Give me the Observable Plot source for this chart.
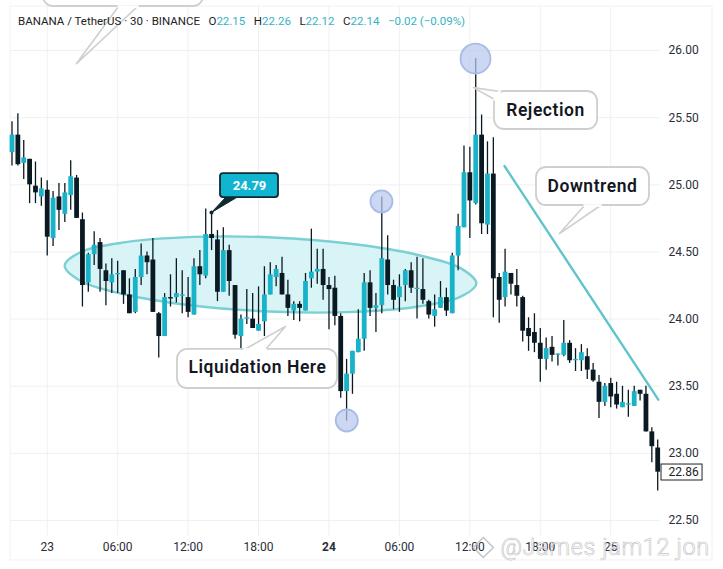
<!DOCTYPE html>
<html>
<head>
<meta charset="utf-8">
<script src="https://cdn.jsdelivr.net/npm/d3@7"></script>
<script src="https://cdn.jsdelivr.net/npm/@observablehq/plot@0.6"></script>
<style>
html,body{margin:0;padding:0;background:#fff}
#wrap{position:relative;width:723px;height:569px;overflow:hidden}
#head{position:absolute;left:18px;top:14px;font:11.5px Roboto,sans-serif;color:#222;white-space:pre}
#head b{font-weight:400;color:#35b3c4}
#head span{margin-left:8.5px}
.callout{font-weight:600;letter-spacing:.55px}
.wm{letter-spacing:.6px;font-weight:300}
</style>
</head>
<body>
<div id="wrap"><div id="chart"></div>
<div id="head"></div></div>
<script>
// ---- candle data (30-minute bars, prices) ----
const highs = [
25.47,25.53,25.33,25.19,25.17,25.05,25.03,24.95,25.01,25.01,
25.18,25.07,24.79,24.49,24.65,24.60,24.41,24.45,24.43,24.36,
24.30,24.37,24.56,24.50,24.60,24.05,24.19,24.33,24.45,24.36,
24.31,24.45,24.51,24.82,24.79,24.66,24.68,24.55,24.25,24.03,
24.22,24.19,24.24,24.39,24.42,24.40,24.46,24.29,24.13,24.13,
24.34,24.67,24.52,24.52,24.31,24.32,24.04,23.70,23.76,24.07,
24.34,24.36,24.19,24.91,24.62,24.29,24.33,24.37,24.42,24.46,
24.45,24.14,24.18,24.28,24.23,24.49,24.78,25.29,25.28,25.94,
25.52,25.32,25.35,24.34,24.52,24.34,24.37,24.17,24.01,24.04,
23.93,23.86,23.87,23.74,23.99,23.84,23.78,23.81,23.78,23.67,
23.58,23.52,23.56,23.53,23.50,23.47,23.50,23.47,23.50,23.19,23.10];
const bodyTops = [
25.37,25.37,25.20,25.19,24.99,24.97,24.96,24.90,24.91,24.94,
25.06,25.05,24.74,24.48,24.55,24.57,24.36,24.33,24.34,24.36,
24.18,24.31,24.47,24.47,24.44,24.04,24.16,24.16,24.19,24.18,
24.16,24.39,24.39,24.63,24.63,24.59,24.51,24.51,24.25,24.00,
24.01,24.00,23.96,24.18,24.33,24.37,24.34,24.18,24.11,24.11,
24.28,24.35,24.37,24.37,24.25,24.23,24.02,23.59,23.76,23.85,
24.27,24.27,24.10,24.45,24.44,24.25,24.24,24.36,24.36,24.23,
24.22,24.13,24.07,24.16,24.16,24.47,24.69,25.09,25.09,25.37,
25.37,25.08,25.08,24.31,24.35,24.34,24.25,24.16,23.93,23.90,
23.82,23.78,23.79,23.74,23.82,23.82,23.70,23.75,23.72,23.62,
23.53,23.50,23.52,23.44,23.38,23.37,23.46,23.47,23.44,23.16,23.04];
const bodyBottoms = [
25.24,25.15,25.16,25.00,24.94,24.91,24.61,24.60,24.81,24.78,
24.92,24.75,24.25,24.27,24.48,24.37,24.28,24.27,24.33,24.18,
24.04,24.05,24.31,24.42,24.05,23.87,23.87,24.15,24.16,24.17,
24.05,24.03,24.33,24.32,24.60,24.20,24.20,24.28,23.88,23.87,
24.00,23.93,23.91,23.98,24.18,24.31,24.18,24.08,24.06,24.08,
24.06,24.30,24.35,24.25,24.22,24.02,23.46,23.46,23.59,23.75,
23.85,24.08,24.08,24.10,24.25,24.14,24.16,24.25,24.23,24.22,
24.14,24.03,24.02,24.08,24.06,24.04,24.47,24.68,24.88,24.86,
24.71,24.70,24.30,24.14,24.16,24.26,24.17,23.91,23.87,23.82,
23.70,23.70,23.73,23.73,23.73,23.69,23.69,23.69,23.62,23.54,
23.38,23.38,23.42,23.36,23.34,23.36,23.35,23.44,23.16,23.05,22.86];
const lows = [
25.14,25.14,25.04,24.86,24.86,24.84,24.47,24.54,24.66,24.72,
24.81,24.75,24.09,24.20,24.40,24.20,24.10,24.19,24.19,24.11,
24.04,24.04,24.25,24.33,24.05,23.71,23.87,24.09,24.12,24.04,
24.01,24.03,24.25,24.30,24.51,24.13,24.20,24.17,23.85,23.77,
23.96,23.93,23.91,23.87,24.18,24.24,24.18,24.02,23.99,23.98,
24.06,24.23,24.26,24.14,23.92,23.95,23.41,23.24,23.44,23.75,
23.76,24.02,23.90,24.04,24.18,24.07,24.05,24.13,24.19,24.00,
24.11,24.00,23.94,24.08,24.02,24.04,24.36,24.68,24.60,24.85,
24.63,24.63,24.01,23.97,24.09,24.18,24.09,23.83,23.76,23.75,
23.53,23.62,23.68,23.65,23.72,23.67,23.61,23.61,23.55,23.53,
23.26,23.35,23.34,23.33,23.34,23.27,23.35,23.39,23.16,22.93,22.72];
const risingBars = [0,2,5,7,9,10,13,14,17,18,21,22,26,28,29,31,33,36,39,40,42,43,44,45,48,50,51,52,57,58,59,60,62,63,66,67,69,72,73,75,76,77,79,81,84,91,93,94,96,97,101,104,105,106];

// ---- axes ----
const priceTicks = [22.5,23,23.5,24,24.5,25,25.5,26];
const timeTickBars = [6,18,30,42,54,66,78,90,102];
const timeTickLabels = ["23","06:00","12:00","18:00","24","06:00","12:00","18:00","25"];
const boldTimeBar = 54;
const lastPrice = 22.86;

// ---- drawings on the chart, in (bar, price) ----
const ellipseBars   = [79.1,76.34,68.64,57.2,43.76,30.36,19.06,11.53,8.98,11.74,19.44,30.87,44.31,57.72,69.01,76.54];
const ellipsePrices = [24.265,24.165,24.09,24.052,24.057,24.103,24.185,24.288,24.399,24.5,24.573,24.612,24.608,24.561,24.479,24.376];
const trendBars = [83.9,110.1];
const trendPrices = [25.14,23.40];
const circleBars = [78.96,62.94,57.03];
const circlePrices = [25.94,24.876,23.245];
const circleRadii = [15,11,11];
const calloutTexts = ["Liquidation Here","Rejection","Downtrend",""];
const calloutBoxes = [[28.19,55.45,23.483,23.774],[82.2,99.76,25.412,25.695],[89.35,108.6,24.846,25.129],[5.37,32.62,26.328,26.596]];
const calloutCentres = [[41.82,23.64],[90.89,25.553],[98.89,24.987],[19,26.4]];
const calloutTails = [
  [[39.61,23.774],[46.59,23.945],[43.19,23.774]],
  [[83.05,25.695],[78.62,25.724],[82.2,25.635]],
  [[97.53,24.846],[93.27,24.637],[100.26,24.846]],
  [[18.14,26.328],[10.99,25.903],[21.38,26.328]]
];

const bars = highs.map((h,i)=>({i,high:h,low:lows[i],top:bodyTops[i],bot:bodyBottoms[i],up:risingBars.includes(i)}));
const TEAL="#18b3c8", DARK="#0b1a22", GRID="#eff0f2", BUB="#cfcfcf";

const xy = ([x,y])=>({x,y});
function callout(k){
  const [x1,x2,y1,y2]=calloutBoxes[k], t=calloutTails[k], [cx,cy]=calloutCentres[k];
  const marks=[
    Plot.rect([0],{x1:()=>x1,x2:()=>x2,y1:()=>y1,y2:()=>y2,rx:10,fill:"white",stroke:BUB,strokeWidth:1.8}),
    Plot.line(t.map(xy),{x:"x",y:"y",fill:"white",stroke:BUB,strokeWidth:1.6}),
    Plot.line([t[0],t[2]].map(xy),{x:"x",y:"y",stroke:"white",strokeWidth:2.6})
  ];
  if(calloutTexts[k]) marks.push(Plot.text([calloutTexts[k]],{x:()=>cx,y:()=>cy,text:d=>d,fontSize:17.5,className:"callout",fill:"#131722"}));
  return marks;
}
const timeLabel = d=>timeTickLabels[timeTickBars.indexOf(d)];

const chart = Plot.plot({
  width:723,height:569,marginLeft:10,marginRight:63,marginTop:6,marginBottom:33,
  style:{background:"white",fontFamily:"Roboto, sans-serif",overflow:"hidden"},
  x:{type:"linear",domain:[-0.2555,110.477]},
  y:{type:"linear",domain:[22.381,26.328]},
  marks:[
    // pane border
    Plot.rect([0],{x1:()=>-0.2555,x2:()=>119.34,y1:()=>22.2025,y2:()=>26.328,fill:"none",stroke:"#f1f1f1"}),
    Plot.ruleX(timeTickBars,{stroke:GRID}),
    Plot.ruleY(priceTicks,{stroke:GRID}),
    // liquidation ellipse
    Plot.line(ellipseBars.map((x,i)=>({x,y:ellipsePrices[i]})),{x:"x",y:"y",curve:"catmull-rom-closed",fill:"#d8f4f7",stroke:"#7ccfd2",strokeWidth:2.4}),
    // candles
    Plot.ruleX(bars,{x:"i",y1:"low",y2:"high",stroke:DARK,strokeWidth:1.3}),
    Plot.ruleX(bars,{x:"i",y1:"bot",y2:"top",stroke:d=>d.up?TEAL:DARK,strokeWidth:4.8}),
    // trend line
    Plot.line(trendBars.map((x,i)=>({x,y:trendPrices[i]})),{x:"x",y:"y",stroke:"#5fc5ca",strokeWidth:2.4}),
    // circles
    ...circleBars.map((x,i)=>Plot.dot([{x,y:circlePrices[i]}],{x:"x",y:"y",r:circleRadii[i],fill:"#b7c8ef",fillOpacity:.72,stroke:"#a9bce6",strokeWidth:1.8})),
    // callouts
    ...callout(3),...callout(0),...callout(1),...callout(2),
    // 24.79 label
    Plot.line([[36.37,24.905],[33.99,24.794],[38.24,24.905]].map(xy),{x:"x",y:"y",fill:"#0e2a33",stroke:"#0e2a33",strokeWidth:1}),
    Plot.dot([[33.99,24.794]].map(xy),{x:"x",y:"y",r:2,fill:"#0e2a33"}),
    Plot.rect([0],{x1:()=>35.52,x2:()=>45.4,y1:()=>24.905,y2:()=>25.084,rx:3,fill:"#12b5d0",stroke:"#0e2a33",strokeWidth:1.8}),
    Plot.text(["24.79"],{x:()=>40.46,y:()=>24.995,text:d=>d,fontSize:13,fontWeight:700,fill:"white"}),
    // axes
    Plot.axisY({anchor:"right",ticks:priceTicks,tickSize:0,tickPadding:8,tickFormat:d3.format(".2f"),fontSize:12,fill:"#2a2e39",label:null}),
    Plot.axisX({anchor:"bottom",ticks:timeTickBars.filter(d=>d!==boldTimeBar),tickSize:0,tickPadding:6,tickFormat:timeLabel,fontSize:12,fill:"#2a2e39",label:null}),
    Plot.axisX({anchor:"bottom",ticks:[boldTimeBar],tickSize:0,tickPadding:6,tickFormat:timeLabel,fontSize:12,fontWeight:700,fill:"#2a2e39",label:null}),
    // last price tag
    Plot.rect([0],{x1:()=>110.65,x2:()=>117.64,y1:()=>22.798,y2:()=>22.917,fill:"white",stroke:"#222",strokeWidth:1}),
    Plot.text([lastPrice],{x:()=>111.84,y:d=>d,text:d=>d.toFixed(2),textAnchor:"start",fontSize:12,fill:"#222"}),
    // watermark
    Plot.dot([[80.3,22.299]].map(xy),{x:"x",y:"y",symbol:"diamond2",r:9,stroke:"#c4c4c4",strokeWidth:1.5,fill:"none"}),
    Plot.text(["@James jam12 jon"],{x:()=>83.2,y:()=>22.299,text:d=>d,textAnchor:"start",fontSize:23.5,className:"wm",fill:"white",fillOpacity:.55,stroke:"#a8a8a8",strokeWidth:.6})
  ]
});
document.getElementById("chart").appendChild(chart);

// header line
const headLabel="BANANA / TetherUS · 30 · BINANCE";
const headVals=[["O","22.15"],["H","22.26"],["L","22.12"],["C","22.14"],["","−0.02 (−0.09%)"]];
document.getElementById("head").innerHTML=headLabel+headVals.map(([a,b])=>`<span>${a}<b>${b}</b></span>`).join("");
</script>
</body>
</html>
